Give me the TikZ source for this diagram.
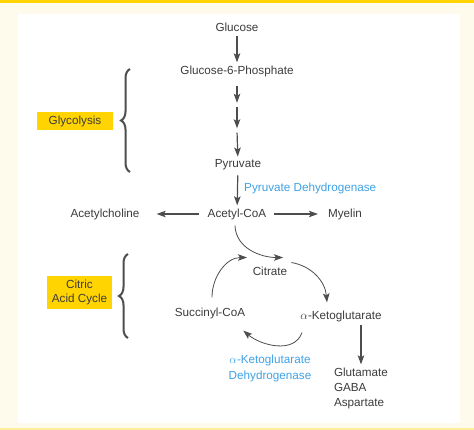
\documentclass[tikz,border=0pt]{standalone}
\usepackage{fontspec}
\setmainfont{Liberation Sans}
\usepackage{xcolor}
\usepackage{tikz}
\usetikzlibrary{positioning,arrows.meta,decorations.pathreplacing}
\definecolor{txtgray}{HTML}{3C3C3C}
\definecolor{arrgray}{HTML}{4D4D4D}
\definecolor{enzblue}{HTML}{3FA2E6}
\definecolor{boxyellow}{HTML}{FFD400}
\definecolor{cream}{HTML}{FFFBEC}

\tikzset{
  met/.style={text=txtgray, inner sep=3pt, font=\fontsize{11.7}{15}\selectfont},
  enz/.style={text=enzblue, inner sep=2pt, font=\fontsize{11.7}{16}\selectfont},
  stage/.style={fill=boxyellow, text=txtgray, inner sep=0pt, font=\fontsize{11.7}{14}\selectfont},
  arr/.style={draw=arrgray, line width=1.2pt, -{Stealth[length=9pt,width=6.5pt,inset=2pt]}},
  carr/.style={draw=arrgray, line width=0.8pt, -{Stealth[length=9pt,width=6.5pt,inset=2pt]}},
  bracket/.style={draw=arrgray, line width=2pt, decorate, decoration={brace,amplitude=9pt}}
}

\begin{document}
\begin{tikzpicture}[x=1pt,y=1pt]
    \fill[cream] (0,0) rectangle (474,-430);
    \fill[white] (18,-14) rectangle (460,-423);
    \fill[boxyellow] (0,0) rectangle (474,-3);
    \fill[boxyellow!40] (0,-428) rectangle (474,-430);
    \useasboundingbox (0,0) rectangle (474,-430);

    % metabolites
    \node[met] (glc) at (237,-27) {Glucose};
    \node[met] (g6p) at (237,-71) {Glucose-6-Phosphate};
    \node[inner sep=2pt] (s1) at (237,-105) {};
    \node[inner sep=2pt] (s2) at (237,-130.5) {};
    \node[met] (pyr) at (238,-165) {Pyruvate};
    \node[met] (acoa) at (237,-214) {Acetyl-CoA};
    \node[met] (ach) at (105,-214) {Acetylcholine};
    \node[met] (myl) at (345,-214) {Myelin};
    \node[met] (cit) at (270,-271) {Citrate};
    \node[met] (akg) at (341,-316) {$\alpha$-Ketoglutarate};
    \node[met] (suc) at (210,-313) {Succinyl-CoA};
    \node[met, align=left] (glut) at (361,-388) {Glutamate\\GABA\\Aspartate};

    % enzymes
    \node[enz, anchor=west] (pdh) at (242,-188) {Pyruvate Dehydrogenase};
    \node[enz, align=center] (akgdh) at (270,-368) {$\alpha$-Ketoglutarate\\Dehydrogenase};

    % stages
    \node[stage, minimum width=76pt, minimum height=18pt] (gly) at (75,-121) {Glycolysis};
    \node[stage, minimum width=65pt, minimum height=33pt, align=center] (tca) at (79.5,-292.5) {Citric\\Acid Cycle};
    \draw[bracket] (130,-172) -- (130,-69);
    \draw[bracket] (128,-338) -- (128,-254);

    % glycolysis
    \draw[arr, shorten <=2pt] (glc) -- (g6p);
    \draw[arr, shorten <=6pt] (g6p) -- (s1);
    \draw[arr] (s1) -- (s2);
    \draw[arr] (s2) -- (pyr);
    \draw[arr, shorten <=2pt] (pyr) -- (acoa);
    \draw[arr, shorten <=6pt, shorten >=14pt] (acoa) -- (ach);
    \draw[arr, shorten <=5pt, shorten >=7pt] (acoa) -- (myl);

    % citric acid cycle
    \draw[carr] ([xshift=-2pt,yshift=-3pt]acoa.south) to[out=-88,in=180] ([xshift=13pt,yshift=6pt]cit.north);
    \draw[carr] ([xshift=1pt,yshift=1pt]cit.north east) to[out=-10,in=95] ([xshift=-14pt,yshift=5pt]akg.north);
    \draw[carr] ([xshift=-39pt,yshift=-8pt]akg.south) to[out=-110,in=-40] ([xshift=-5pt,yshift=-9pt]suc.south east);
    \draw[carr] ([xshift=2pt,yshift=7pt]suc.north) to[out=90,in=180] ([xshift=-23pt,yshift=6pt]cit.north);
    \draw[arr] (akg.south -| glut.north) -- (glut.north);
\end{tikzpicture}
\end{document}
